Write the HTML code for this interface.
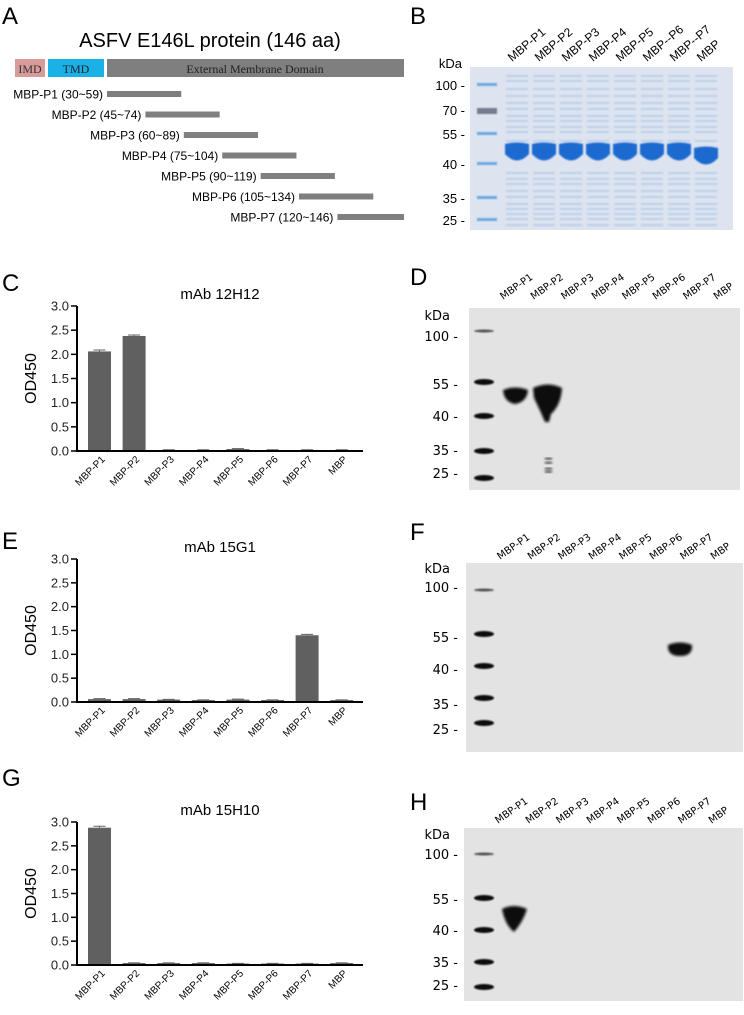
<!DOCTYPE html>
<html><head><meta charset="utf-8"><style>
html,body{margin:0;padding:0;background:#fff;}
body{width:744px;height:1015px;position:relative;overflow:hidden;font-family:"Liberation Sans",Arial,sans-serif;}
svg{position:absolute;left:0;top:0;}
</style></head><body>
<svg id="fig" width="744" height="1015" viewBox="0 0 744 1015" xmlns="http://www.w3.org/2000/svg">
<defs>
<filter id="bl" x="-50%" y="-50%" width="200%" height="200%"><feGaussianBlur stdDeviation="1.2"/></filter>
<filter id="bl2" x="-50%" y="-50%" width="200%" height="200%"><feGaussianBlur stdDeviation="0.7"/></filter>
</defs>
<!-- Panel A -->
<g>
<text x="2" y="24" font-size="24">A</text>
<text x="210" y="47" font-size="20" text-anchor="middle">ASFV E146L protein (146 aa)</text>
<rect x="15" y="59" width="30" height="18" fill="#d99a9a"/>
<text x="30" y="73" font-size="12" text-anchor="middle" font-family="Liberation Serif,serif" fill="#333">IMD</text>
<rect x="48" y="59" width="56" height="18" fill="#1ab0e8"/>
<text x="76" y="73" font-size="12" text-anchor="middle" font-family="Liberation Serif,serif" fill="#222">TMD</text>
<rect x="107" y="59" width="297" height="18" fill="#7f7f7f"/>
<text x="255" y="73" font-size="12" text-anchor="middle" font-family="Liberation Serif,serif" fill="#222">External  Membrane  Domain</text>
<g id="peps"></g>
</g>
<!-- Panel B -->
<g>
<text x="410" y="24" font-size="24">B</text>
<rect x="470" y="67" width="263" height="163" fill="#dde3ef"/>
<g id="gelB"></g>
</g>
<g id="blots"></g>
<g id="charts"></g>
</svg>
<script>
const NS='http://www.w3.org/2000/svg';
const svg=document.getElementById('fig');
function mk(tag,attrs,parent){const e=document.createElementNS(NS,tag);for(const k in attrs)e.setAttribute(k,attrs[k]);(parent||svg).appendChild(e);return e;}

// Panel A peptides
const pepNames=['MBP-P1 (30~59)','MBP-P2 (45~74)','MBP-P3 (60~89)','MBP-P4 (75~104)','MBP-P5 (90~119)','MBP-P6 (105~134)','MBP-P7 (120~146)'];
const pepStart=[30,45,60,75,90,105,120];
const pepEnd=[59,74,89,104,119,134,146];
const peps=document.getElementById('peps');
function aaX(a){return 107+(a-30)*(404-107)/(146-30);}
pepNames.forEach((n,i)=>{
 const y=94+i*20.5;
 const r=mk('rect',{x:aaX(pepStart[i]),y:y-3,width:aaX(pepEnd[i])-aaX(pepStart[i]),height:6,fill:'#7f7f7f'},peps);
 
 
 const t=mk('text',{x:aaX(pepStart[i])-4,y:y+4.5,'font-size':12,'text-anchor':'end'},peps);
 t.textContent=n;
 
 
});

// Panel B gel
const gelLanes=['MBP-P1','MBP-P2','MBP-P3','MBP-P4','MBP-P5','MBP--P6','MBP--P7','MBP'];
const gel=document.getElementById('gelB');
const kdaB=['100 -','70 -','55 -','40 -','35 -','25 -'];
const kdaBy=[85,110,134,164,198,220];
{const t=mk('text',{x:462,y:68,'font-size':13,'text-anchor':'end'},gel);t.textContent='kDa';}
kdaB.forEach((k,i)=>{const t=mk('text',{x:465,y:kdaBy[i]+5,'font-size':13,'text-anchor':'end'},gel);t.textContent=k;
 const b=mk('rect',{x:477,y:kdaBy[i]-2,width:20,height:i==1?6:3,fill:i==1?'#777a90':'#6aa8e0',filter:'url(#bl2)'},gel);});
const faintY=[75,80,88,95,102,108,115,120,126,131,140,172,178,183,190,196,203,208,213,218,224];
gelLanes.forEach((n,i)=>{
 const cx=517+i*27;
 faintY.forEach(y=>{const r=mk('rect',{x:cx-11,y:y,width:22,height:2,fill:'#8fbde8',opacity:0.45,filter:'url(#bl2)'},gel);});
 const by=i==7?155:151;
 const e=mk('path',{d:`M${cx-12},${by-7} Q${cx},${by-10} ${cx+12},${by-7} L${cx+12},${by+3} Q${cx},${by+16} ${cx-12},${by+3} Z`,fill:'#1c6bd0',filter:'url(#bl2)'},gel);
 
 const t=mk('text',{x:0,y:0,'font-size':12,transform:`translate(${cx-5},62) rotate(-40)`},gel);t.textContent=n;
});

// Western blots
const blotLanes=['MBP-P1','MBP-P2','MBP-P3','MBP-P4','MBP-P5','MBP-P6','MBP-P7','MBP'];
const mwLabels=['100 -','55 -','40 -','35 -','25 -'];
const blotDefs=[
 {L:'D',ly:285,lx:410,box:[469,308,740,490],kda:315,my:[336,384,416,450,473],band:[331,382,416,451,478],lab0:503,labY:300},
 {L:'F',ly:540,lx:410,box:[466,563,743,752],kda:568,my:[587,637,669,704,729],band:[590,634,666,698,723],lab0:500,labY:560},
 {L:'H',ly:810,lx:410,box:[464,828,743,1001],kda:834,my:[854,899,930,962,985],band:[854,898,930,962,987],lab0:498,labY:824}
];
const blots=document.getElementById('blots');
blotDefs.forEach((d,bi)=>{
 const g=mk('g',{},blots);
 const t=mk('text',{x:d.lx,y:d.ly,'font-size':24},g);t.textContent=d.L;
 const r=mk('rect',{x:d.box[0],y:d.box[1],width:d.box[2]-d.box[0],height:d.box[3]-d.box[1],fill:'#e3e3e3'},g);
 const k=mk('text',{x:450,y:d.kda+5,'font-size':13,'text-anchor':'end','font-family':'DejaVu Sans,sans-serif'},g);k.textContent='kDa';
 mwLabels.forEach((m,i)=>{const tt=mk('text',{x:458,y:d.my[i]+5,'font-size':13,'text-anchor':'end','font-family':'DejaVu Sans,sans-serif'},g);tt.textContent=m;
  const e=mk('ellipse',{cx:484,cy:d.band[i],rx:10,ry:i==0?1.5:3,fill:i==0?'#555':'#111',filter:'url(#bl2)'},g);});
 blotLanes.forEach((n,i)=>{const tt=mk('text',{x:0,y:0,'font-size':10,transform:`translate(${d.lab0+i*30.5},${d.labY}) rotate(-35)`,'font-family':'DejaVu Sans,sans-serif'},g);tt.textContent=n;});
});
function blob(p,name){const e=mk('path',{d:p,fill:'#111',filter:'url(#bl)'},blots);}
blob('M503,390 Q515,385 528,390 Q527,402 515,404 Q504,402 503,390 Z','band-p1-12h12');
blob('M533,388 Q548,381 562,388 Q561,405 551,414 L549,422 L545,422 Q540,410 534,398 Z','band-p2-12h12');
[458,462,468,471].forEach((y,i)=>blob(`M545,${y} L552,${y} L552,${y+1.5} L545,${y+1.5} Z`,'faint-band'));
blob('M668,645 Q680,640 692,645 Q693,656 680,656 Q667,656 668,645 Z','band-p7-15g1');
blob('M502,909 Q514,903 527,909 Q523,922 514,932 Q505,925 502,909 Z','band-p1-15h10');

// Bar charts
const categories=['MBP-P1','MBP-P2','MBP-P3','MBP-P4','MBP-P5','MBP-P6','MBP-P7','MBP'];
const yTicks=[0,0.5,1.0,1.5,2.0,2.5,3.0];
const yTickLabels=['0.0','0.5','1.0','1.5','2.0','2.5','3.0'];
const values12H12=[2.06,2.38,0.02,0.02,0.04,0.02,0.02,0.02];
const errors12H12=[0.03,0.02,0.005,0.005,0.01,0.005,0.005,0.005];
const values15G1=[0.06,0.06,0.05,0.04,0.05,0.04,1.40,0.04];
const errors15G1=[0.01,0.01,0.005,0.005,0.01,0.005,0.02,0.005];
const values15H10=[2.88,0.04,0.04,0.04,0.03,0.03,0.03,0.04];
const errors15H10=[0.03,0.005,0.005,0.005,0.005,0.005,0.005,0.005];
const chartDefs=[
 {L:'C',title:'mAb 12H12',vals:values12H12,errs:errors12H12,top:306,zero:451,ly:282},
 {L:'E',title:'mAb 15G1',vals:values15G1,errs:errors15G1,top:559,zero:702,ly:540},
 {L:'G',title:'mAb 15H10',vals:values15H10,errs:errors15H10,top:822,zero:965,ly:777}
];
const charts=document.getElementById('charts');
chartDefs.forEach(c=>{
 const g=mk('g',{},charts);
 const ymax=3.0;
 const yS=v=>c.zero-(v/ymax)*(c.zero-c.top);
 const xS=i=>99.5+i*34.6;
 const lt=mk('text',{x:2,y:c.ly+9,'font-size':24},g);lt.textContent=c.L;
 const tt=mk('text',{x:220,y:c.top-7,'font-size':15,'text-anchor':'middle'},g);tt.textContent=c.title;
 const yt=mk('text',{x:0,y:0,'font-size':16,'text-anchor':'middle',transform:`translate(36,${(c.top+c.zero)/2}) rotate(-90)`},g);yt.textContent='OD450';
 c.vals.forEach((v,i)=>{
  const b=mk('rect',{x:xS(i)-11.5,y:yS(v),width:23,height:c.zero-yS(v),fill:'#606060'},g);
  
  
  const ey=yS(v+c.errs[i]);
  const eb=mk('path',{d:`M${xS(i)},${yS(v)} L${xS(i)},${ey} M${xS(i)-6},${ey} L${xS(i)+6},${ey}`,stroke:'#606060','stroke-width':1,fill:'none'},g);
  
  
  const xl=mk('text',{x:0,y:0,'font-size':10,'text-anchor':'end',transform:`translate(${xS(i)+6},${c.zero+9}) rotate(-45)`},g);
  xl.textContent=categories[i];
  
  
 });
 const ax=mk('path',{d:`M77,${c.top} L77,${c.zero} L363,${c.zero}`,stroke:'#000','stroke-width':2,fill:'none'},g);
 yTicks.forEach((v,i)=>{
  const tk=mk('line',{x1:71,x2:77,y1:yS(v),y2:yS(v),stroke:'#000','stroke-width':1.5},g);
  const tl=mk('text',{x:69,y:yS(v)+4.5,'font-size':13,'text-anchor':'end',fill:'#222'},g);tl.textContent=yTickLabels[i];
 });
});
</script>
</body></html>
